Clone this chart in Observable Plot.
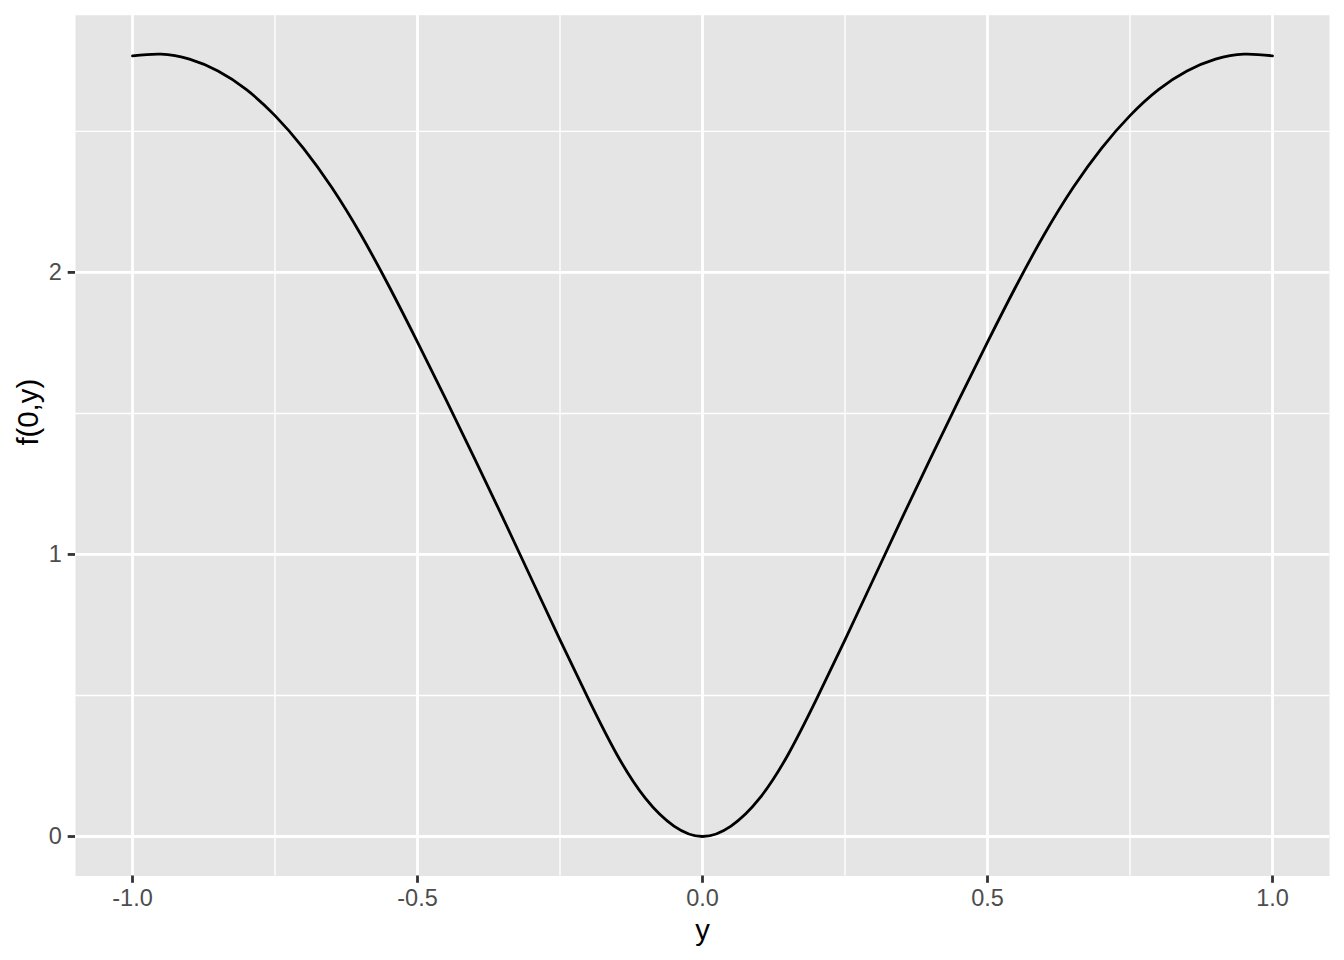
<!DOCTYPE html>
<html>
<head>
<meta charset="utf-8">
<script src="https://cdn.jsdelivr.net/npm/d3@7"></script>
<script src="https://cdn.jsdelivr.net/npm/@observablehq/plot@0.6"></script>
<style>
  html, body { margin: 0; padding: 0; background: white; }
  #chart svg { display: block; }
</style>
</head>
<body>
<div id="chart"></div>
<script>
const yValues = [-1.00, -0.95, -0.90, -0.85, -0.80, -0.75, -0.70, -0.65, -0.60, -0.55, -0.50,
                 -0.45, -0.40, -0.35, -0.30, -0.25, -0.20, -0.15, -0.10, -0.05, 0.00,
                  0.05,  0.10,  0.15,  0.20,  0.25,  0.30,  0.35,  0.40,  0.45,  0.50,
                  0.55,  0.60,  0.65,  0.70,  0.75,  0.80,  0.85,  0.90,  0.95,  1.00];
const fValues = [2.768, 2.774, 2.756, 2.714, 2.648, 2.556, 2.440, 2.300, 2.136, 1.951, 1.753,
                 1.549, 1.341, 1.129, 0.913, 0.697, 0.487, 0.290, 0.135, 0.037, 0.000,
                 0.037, 0.135, 0.290, 0.487, 0.697, 0.913, 1.129, 1.341, 1.549, 1.753,
                 1.951, 2.136, 2.300, 2.440, 2.556, 2.648, 2.714, 2.756, 2.774, 2.768];

// Axis ticks
const xMajor = [-1.0, -0.5, 0.0, 0.5, 1.0];
const xMinor = [-0.75, -0.25, 0.25, 0.75];
const yMajor = [0, 1, 2];
const yMinor = [0.5, 1.5, 2.5];

const xTitle = "y";
const yTitle = "f(0,y)";

const rows = yValues.map((v, i) => ({y: v, f: fValues[i]}));

const chart = Plot.plot({
  width: 1344,
  height: 960,
  marginLeft: 75,
  marginRight: 15,
  marginTop: 14.7,
  marginBottom: 84.5,
  style: {fontFamily: "'Liberation Sans', Arial, Helvetica, sans-serif", background: "white"},
  x: {domain: [-1.1, 1.1]},
  y: {domain: [-0.14, 2.912]},
  marks: [
    Plot.frame({fill: "#E5E5E5", stroke: null}),
    Plot.gridX(xMinor, {stroke: "white", strokeOpacity: 1, strokeWidth: 1.4}),
    Plot.gridY(yMinor, {stroke: "white", strokeOpacity: 1, strokeWidth: 1.4}),
    Plot.gridX(xMajor, {stroke: "white", strokeOpacity: 1, strokeWidth: 2.8}),
    Plot.gridY(yMajor, {stroke: "white", strokeOpacity: 1, strokeWidth: 2.8}),
    Plot.line(rows, {x: "y", y: "f", stroke: "black", strokeWidth: 2.8, curve: "natural"}),
    Plot.axisX(xMajor, {
      tickSize: 7.3, tickPadding: 6.5, fontSize: 23.5,
      tickFormat: d => d.toFixed(1),
      stroke: "#333333", fill: "#4D4D4D", strokeWidth: 2.8, label: null
    }),
    Plot.axisY(yMajor, {
      tickSize: 7.3, tickPadding: 6.3, fontSize: 23.5,
      tickFormat: d => String(d),
      stroke: "#333333", fill: "#4D4D4D", strokeWidth: 2.8, label: null
    }),
    Plot.text([xTitle], {frameAnchor: "bottom", lineAnchor: "middle", dy: 55, fontSize: 29.3, fill: "black", text: d => d}),
    Plot.text([yTitle], {frameAnchor: "left", lineAnchor: "middle", dx: -47, rotate: -90, fontSize: 29.3, fill: "black", text: d => d})
  ]
});
document.getElementById("chart").appendChild(chart);
</script>
</body>
</html>
